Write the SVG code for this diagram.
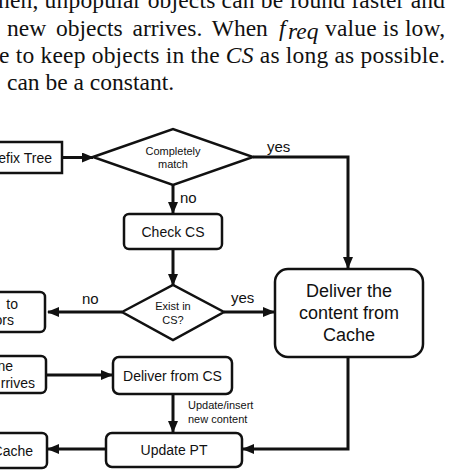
<svg xmlns="http://www.w3.org/2000/svg" width="474" height="474" viewBox="0 0 474 474">
<defs>
<style>
.para{font-family:"Liberation Serif","Times New Roman",serif;font-size:23.5px;fill:#111}
.it{font-style:italic}
.box{fill:#fff;stroke:#111;stroke-width:2.5}
.t{font-family:"Liberation Sans",Arial,sans-serif;fill:#111}
.c{stroke:#111;stroke-width:3;fill:none}
</style>
<marker id="ah" markerUnits="userSpaceOnUse" markerWidth="12" markerHeight="10" refX="11" refY="5" orient="auto">
<path d="M0,0 L12,5 L0,10 z" fill="#111"/>
</marker>
</defs>
<rect width="474" height="474" fill="#fff"/>
<g id="paragraph">
<text class="para" x="-2" y="8" textLength="447" lengthAdjust="spacing">hen, unpopular objects can be found faster and</text>
<text class="para" x="7" y="36" word-spacing="4">new objects arrives. When</text>
<text class="para it" x="279" y="36">f</text>
<text class="para it" x="288" y="39" font-size="15">req</text>
<text class="para" x="325" y="36" textLength="120" lengthAdjust="spacing">value is low,</text>
<text class="para" x="-1" y="63" textLength="446" lengthAdjust="spacing">e to keep objects in the <tspan class="it">CS</tspan> as long as possible.</text>
<text class="para" x="7" y="90">can be a constant.</text>
</g>
<g id="connectors">
<line class="c" x1="62" y1="157.5" x2="93" y2="157.5" marker-end="url(#ah)"/>
<polyline class="c" points="253,157 348,157 348,268" marker-end="url(#ah)"/>
<line class="c" x1="173" y1="185" x2="173" y2="213" marker-end="url(#ah)"/>
<line class="c" x1="173" y1="249" x2="173" y2="285" marker-end="url(#ah)"/>
<line class="c" x1="122" y1="312" x2="48" y2="312" marker-end="url(#ah)"/>
<line class="c" x1="224" y1="312" x2="274" y2="312" marker-end="url(#ah)"/>
<line class="c" x1="47" y1="375" x2="112" y2="375" marker-end="url(#ah)"/>
<line class="c" x1="173" y1="394" x2="173" y2="432" marker-end="url(#ah)"/>
<polyline class="c" points="348,357 348,449 243,449" marker-end="url(#ah)"/>
<line class="c" x1="106" y1="449" x2="48" y2="449" marker-end="url(#ah)"/>
<text class="t" font-size="15" x="267" y="152">yes</text>
<text class="t" font-size="15" x="180" y="203">no</text>
<text class="t" font-size="15" x="82" y="304">no</text>
<text class="t" font-size="15" x="231" y="303">yes</text>
<text class="t" font-size="11" x="188" y="409">Update/insert</text>
<text class="t" font-size="11" x="188" y="423">new content</text>
</g>
<g id="prefix-tree">
<rect class="box" x="-10" y="142" width="72" height="31"/>
<text class="t" font-size="14" x="52" y="163" text-anchor="end">efix Tree</text>
</g>
<g id="completely-match">
<polygon class="box" points="93,157 173,129 253,157 173,185"/>
<text class="t" font-size="11" x="173" y="155" text-anchor="middle">Completely</text>
<text class="t" font-size="11" x="173" y="168" text-anchor="middle">match</text>
</g>
<g id="check-cs">
<rect class="box" x="124" y="214" width="98" height="35" rx="5"/>
<text class="t" font-size="14" x="173" y="237" text-anchor="middle">Check CS</text>
</g>
<g id="exist-in-cs">
<polygon class="box" points="122,312 173,285 224,312 173,340"/>
<text class="t" font-size="11" x="173" y="310" text-anchor="middle">Exist in</text>
<text class="t" font-size="11" x="173" y="324" text-anchor="middle">CS?</text>
</g>
<g id="deliver-cache">
<rect class="box" x="275" y="269" width="148" height="88" rx="13"/>
<text class="t" font-size="18" x="349" y="297" text-anchor="middle">Deliver the</text>
<text class="t" font-size="18" x="349" y="319" text-anchor="middle">content from</text>
<text class="t" font-size="18" x="349" y="341" text-anchor="middle">Cache</text>
</g>
<g id="forward">
<rect class="box" x="-10" y="292" width="55" height="40" rx="5"/>
<text class="t" font-size="14" x="18" y="309" text-anchor="end">to</text>
<text class="t" font-size="14" x="14" y="325" text-anchor="end">ors</text>
</g>
<g id="arrives">
<rect class="box" x="-10" y="356" width="56" height="37" rx="5"/>
<text class="t" font-size="14" x="13" y="371" text-anchor="end">ne</text>
<text class="t" font-size="14" x="35" y="388" text-anchor="end">rrives</text>
</g>
<g id="deliver-cs">
<rect class="box" x="113" y="357" width="119" height="37" rx="6"/>
<text class="t" font-size="14" x="172.5" y="381" text-anchor="middle">Deliver from CS</text>
</g>
<g id="update-pt">
<rect class="box" x="106" y="433" width="136" height="34" rx="6"/>
<text class="t" font-size="14" x="174" y="455" text-anchor="middle">Update PT</text>
</g>
<g id="cache">
<rect class="box" x="-10" y="433" width="57" height="35" rx="5"/>
<text class="t" font-size="14" x="33" y="456" text-anchor="end">Cache</text>
</g>
</svg>
